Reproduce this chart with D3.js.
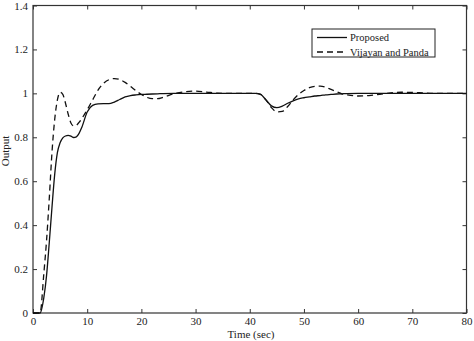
<!DOCTYPE html>
<html>
<head>
<meta charset="utf-8">
<script src="https://cdn.jsdelivr.net/npm/d3@7"></script>
<style>
  body { margin: 0; background: #fff; }
  svg { display: block; }
  text { font-family: "Liberation Serif", "Times New Roman", serif; fill: #222; }
</style>
</head>
<body>
<svg id="chart" width="474" height="341"></svg>
<script>
// ---- data ----
const time = [0,1,1.3,2,2.5,3,3.5,4,4.5,5,5.5,6,6.5,7,7.5,8,8.5,9,10,11,12,13,14,15,16,17,18,19,20,21,22,23,24,26,28,30,32,34,36,38,40,41,42,43,44,45,46,47,48,49,50,51,52,53,54,55,56,57,58,60,62,64,66,68,70,72,74,76,78,80];
const proposed = [0,0,0,0.07,0.17,0.32,0.48,0.63,0.73,0.775,0.797,0.806,0.809,0.805,0.799,0.802,0.818,0.845,0.915,0.945,0.952,0.953,0.953,0.96,0.972,0.984,0.99,0.993,0.995,0.996,0.997,0.998,0.999,1,1,1,1,1,1,1,1,1,0.995,0.97,0.943,0.935,0.942,0.955,0.966,0.975,0.98,0.984,0.988,0.99,0.993,0.995,0.997,0.998,0.999,1,1,1,1,1,1,1,1,1,1,1];
const vijayan = [0,0,0,0.18,0.33,0.52,0.73,0.88,0.97,1.005,0.995,0.955,0.905,0.865,0.852,0.855,0.868,0.885,0.925,0.97,1.015,1.045,1.062,1.067,1.063,1.05,1.032,1.012,0.995,0.982,0.976,0.976,0.982,0.998,1.007,1.01,1.006,1.001,1,1,1,1,0.995,0.97,0.935,0.916,0.918,0.94,0.97,0.995,1.013,1.026,1.032,1.033,1.028,1.018,1.008,0.998,0.993,0.988,0.99,0.996,1.002,1.005,1.004,1.002,1,1,1,1];
const xTicks = [0,10,20,30,40,50,60,70,80];
const yTicks = [0,0.2,0.4,0.6,0.8,1,1.2,1.4];
const seriesNames = ["Proposed", "Vijayan and Panda"];

// ---- layout ----
const svg = d3.select("#chart");
const L = 33, R = 466.5, T = 5.5, B = 313;
const x = d3.scaleLinear().domain([0, 80]).range([L, R]);
const y = d3.scaleLinear().domain([0, 1.4]).range([B, T]);
const axisColor = "#333";

// frame
svg.append("rect").attr("x", L).attr("y", T).attr("width", R - L).attr("height", B - T)
  .attr("fill", "none").attr("stroke", axisColor).attr("stroke-width", 1.2);

function styleAxis(g) {
  g.select(".domain").remove();
  g.selectAll(".tick line").attr("stroke", axisColor).attr("stroke-width", 1);
  g.selectAll(".tick text").attr("font-size", 11).attr("fill", "#222")
    .style("font-family", "'Liberation Serif', serif");
}

// bottom axis (ticks inward)
svg.append("g").attr("transform", `translate(0,${B})`)
  .call(d3.axisBottom(x).tickValues(xTicks).tickFormat(d3.format("d")).tickSizeInner(-4).tickSizeOuter(0).tickPadding(4))
  .call(styleAxis);
// top axis ticks
svg.append("g").attr("transform", `translate(0,${T})`)
  .call(d3.axisTop(x).tickValues(xTicks).tickFormat("").tickSizeInner(-4).tickSizeOuter(0))
  .call(styleAxis);
// left axis
svg.append("g").attr("transform", `translate(${L},0)`)
  .call(d3.axisLeft(y).tickValues(yTicks).tickFormat(d => d === 0 || d === 1 ? d3.format("d")(d) : d3.format(".1f")(d)).tickSizeInner(-4).tickSizeOuter(0).tickPadding(5))
  .call(styleAxis);
// right axis ticks
svg.append("g").attr("transform", `translate(${R},0)`)
  .call(d3.axisRight(y).tickValues(yTicks).tickFormat("").tickSizeInner(-4).tickSizeOuter(0))
  .call(styleAxis);

// lines
const line = d3.line().x(d => x(d[0])).y(d => y(d[1])).curve(d3.curveMonotoneX);
svg.append("path").datum(time.map((t, i) => [t, vijayan[i]]))
  .attr("d", line).attr("fill", "none").attr("stroke", "#111").attr("stroke-width", 1.3)
  .attr("stroke-dasharray", "6,4");
svg.append("path").datum(time.map((t, i) => [t, proposed[i]]))
  .attr("d", line).attr("fill", "none").attr("stroke", "#111").attr("stroke-width", 1.3);

// axis labels
svg.append("text").attr("x", 251).attr("y", 338).attr("text-anchor", "middle")
  .attr("font-size", 11).text("Time (sec)");
svg.append("text").attr("transform", "translate(9,151) rotate(-90)").attr("text-anchor", "middle")
  .attr("font-size", 11).text("Output");

// legend
const lg = svg.append("g");
lg.append("rect").attr("x", 312).attr("y", 29).attr("width", 123).attr("height", 28)
  .attr("fill", "#fff").attr("stroke", "#222").attr("stroke-width", 1);
seriesNames.forEach((name, i) => {
  const yy = 37.5 + i * 14.5;
  lg.append("line").attr("x1", 317).attr("x2", 347).attr("y1", yy).attr("y2", yy)
    .attr("stroke", "#111").attr("stroke-width", 1.3)
    .attr("stroke-dasharray", i === 1 ? "6,4" : null);
  lg.append("text").attr("x", 350).attr("y", yy + 3.5).attr("font-size", 10.5).text(name);
});
</script>
</body>
</html>
